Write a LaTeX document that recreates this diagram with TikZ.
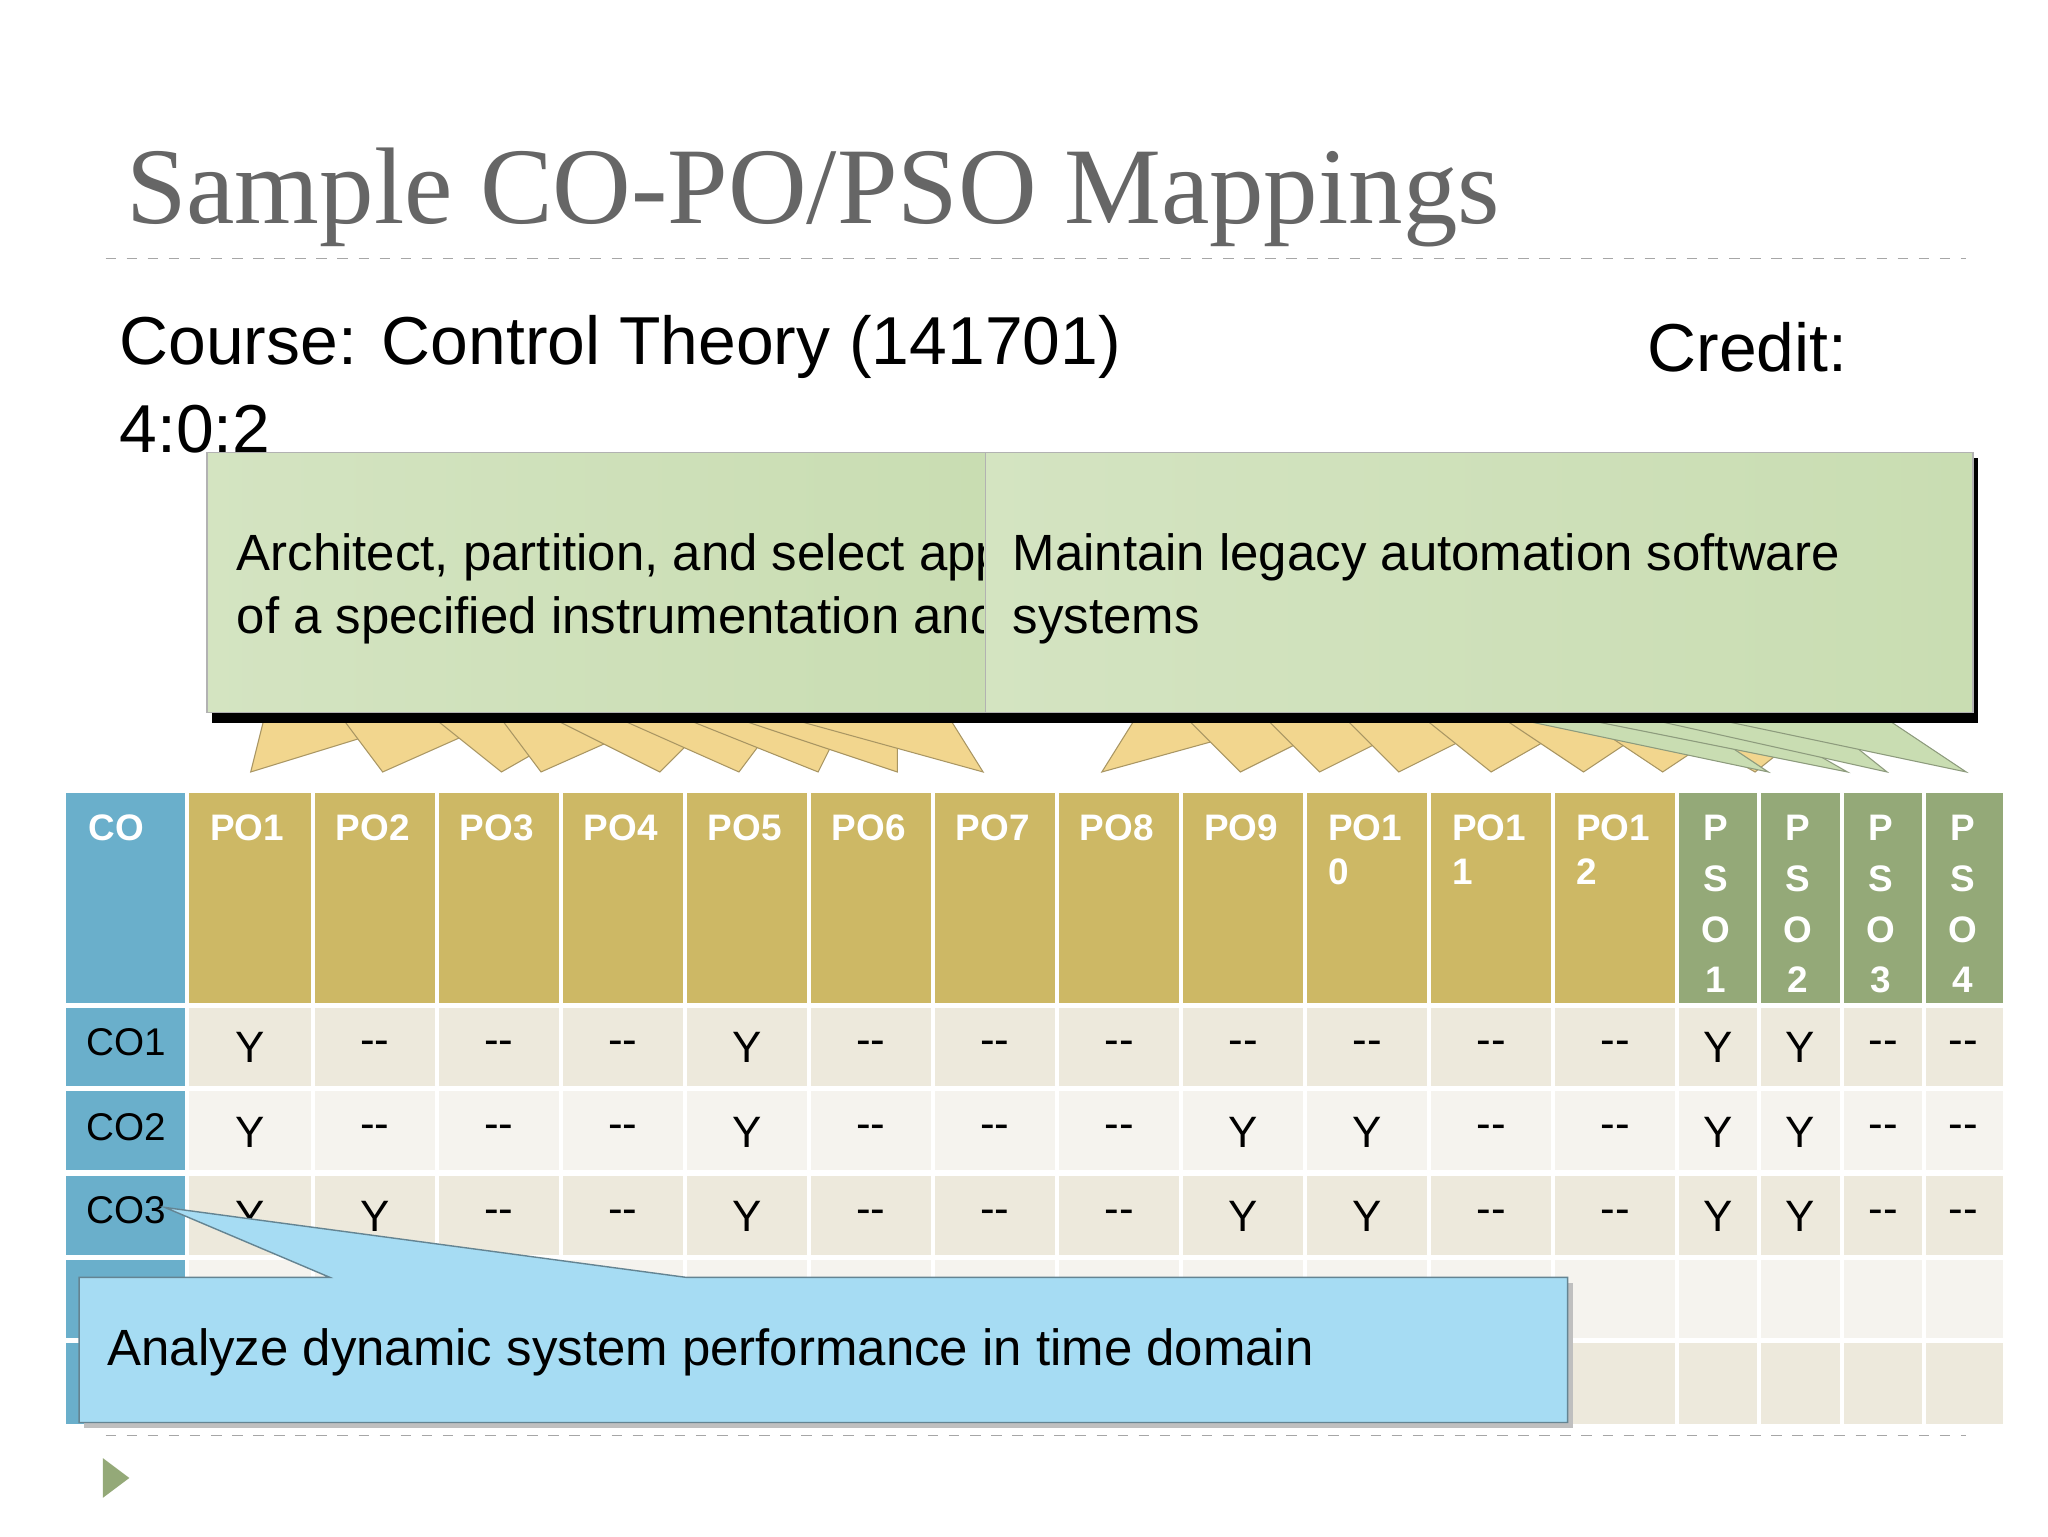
\documentclass[tikz,border=0pt]{standalone}
\usepackage{fontspec}
\setmainfont{Liberation Sans}
\newfontfamily\titlefont{Liberation Serif}
\begin{document}
\begin{tikzpicture}[x=0.0132cm,y=-0.0132cm,
  hd/.style={text=white,font=\bfseries\fontsize{10.5}{12.5}\selectfont,anchor=north west,align=left},
  cell/.style={font=\fontsize{12.5}{14}\selectfont},
  call/.style={font=\fontsize{14.5}{18}\selectfont,anchor=north west,align=left}]
\useasboundingbox (0,0) rectangle (1552,1164);
\fill[white] (0,0) rectangle (1552,1164);
\definecolor{cob}{HTML}{6AAFCB}
\definecolor{pog}{HTML}{CDB865}
\definecolor{psg}{HTML}{94A978}
\definecolor{rowa}{HTML}{EDE9DC}
\definecolor{rowb}{HTML}{F5F3EE}
\definecolor{grn}{HTML}{C9DDB2}
\definecolor{tan}{HTML}{F2D68E}
% title
\node[anchor=west,text=black!60,font=\titlefont\fontsize{31}{36}\selectfont,inner xsep=0pt] (title) at (95,150) {Sample CO-PO/PSO Mappings};
\draw[black!35,dashed] (80,196) -- (1490,196);
\node[anchor=west,font=\fontsize{19.3}{22}\selectfont,inner xsep=0pt] (course) at (90,263) {Course: Control Theory (141701)};
\node[anchor=west,font=\fontsize{19.3}{22}\selectfont,inner xsep=0pt] (credit) at (1248,263) {Credit:};
\node[anchor=west,font=\fontsize{19.3}{22}\selectfont,inner xsep=0pt] (ratio) at (90,325) {4:0:2};
% table
\def\xs{{50,142,237,331,425,519,613,707,801,895,989,1083,1177,1271,1333,1396,1458,1518}}
\def\ys{{601,762,825,889,953,1016,1079}}
\foreach \r in {1,...,5}{
  \pgfmathsetmacro\ya{\ys[\r]}\pgfmathsetmacro\yb{\ys[\r+1]}
  \pgfmathtruncatemacro\odd{mod(\r,2)}
  \ifnum\odd=1 \fill[rowa] (142,\ya) rectangle (1518,\yb); \else \fill[rowb] (142,\ya) rectangle (1518,\yb); \fi
  \fill[cob] (50,\ya) rectangle (142,\yb);
}
\fill[cob] (50,601) rectangle (142,760);
\fill[pog] (142,601) rectangle (1271,760);
\fill[psg] (1271,601) rectangle (1518,760);
\foreach \i in {1,...,16}{\pgfmathsetmacro\xx{\xs[\i]}\draw[white,line width=1.2pt] (\xx,601) -- (\xx,1079);}
\foreach \y in {762,825,889,953,1016}{\draw[white,line width=1.5pt] (50,\y) -- (1518,\y);}
\node[hd] (hco) at (58,608) {CO};
\foreach \n [count=\i] in {PO1,PO2,PO3,PO4,PO5,PO6,PO7,PO8,PO9}{
  \pgfmathsetmacro\xx{\xs[\i]}\node[hd] (h\i) at (\xx+8,608) {\n};}
\node[hd] (h10) at (997,608) {PO1\\0};
\node[hd] (h11) at (1091,608) {PO1\\1};
\node[hd] (h12) at (1185,608) {PO1\\2};
\foreach \k [count=\j] in {1,2,3,4}{
  \pgfmathsetmacro\xx{\xs[12+\j]}
  \node[hd,align=center,inner xsep=0pt] (hp\j) at (\xx+18,608) {P\\[2pt]S\\[2pt]O\\[2pt]\k};}
\node[font=\fontsize{11}{13}\selectfont,anchor=west,inner xsep=0pt] (c1) at (65,790) {CO1};
\node[font=\fontsize{11}{13}\selectfont,anchor=west,inner xsep=0pt] (c2) at (65,854) {CO2};
\node[font=\fontsize{11}{13}\selectfont,anchor=west,inner xsep=0pt] (c3) at (65,917) {CO3};
\def\rA{{"Y","d","d","d","Y","d","d","d","d","d","d","d","Y","Y","d","d"}}
\def\rB{{"Y","d","d","d","Y","d","d","d","Y","Y","d","d","Y","Y","d","d"}}
\def\rC{{"Y","Y","d","d","Y","d","d","d","Y","Y","d","d","Y","Y","d","d"}}
\newcommand\cv[1]{\if d#1{-}{-}\else #1\fi}
\foreach \i in {1,...,16}{
  \pgfmathsetmacro\xa{\xs[\i]}\pgfmathsetmacro\xb{\xs[\i+1]}
  \pgfmathsetmacro\a{\rA[\i-1]}\pgfmathsetmacro\b{\rB[\i-1]}\pgfmathsetmacro\c{\rC[\i-1]}
  \node[cell] (a\i) at ({(\xa+\xb)/2},794) {\cv{\a}};
  \node[cell] (b\i) at ({(\xa+\xb)/2},858) {\cv{\b}};
  \node[cell] (d\i) at ({(\xa+\xb)/2},922) {\cv{\c}};
}
% green callout pointers
\foreach \bx/\ax in {200/190,260/290,330/380,380/410,420/500,470/560,520/620,560/680,600/745}{
  \fill[tan,draw=tan!70!black,line width=0.3pt] (\bx,545) -- (\ax,585) -- (\bx+120,545) -- cycle;}
\foreach \bx/\ax in {860/835,900/940,960/1000,1020/1060,1080/1130,1140/1200,1200/1260,1260/1330}{
  \fill[tan,draw=tan!70!black,line width=0.3pt] (\bx,545) -- (\ax,585) -- (\bx+120,545) -- cycle;}
\foreach \bx/\ax in {1150/1340,1200/1400,1250/1430,1300/1490}{
  \fill[grn,draw=grn!70!black,line width=0.3pt] (\bx,545) -- (\ax,585) -- (\bx+130,545) -- cycle;}
% green callouts
\fill[black] (161,347) rectangle (1499,548);
\shade[left color=grn!80!white,right color=grn] (157,343) rectangle (747,540);
\shade[left color=grn!80!white,right color=grn] (747,343) rectangle (1495,540);
\draw[black!30,line width=0.4pt] (157,343) rectangle (1495,540) (747,343) -- (747,540);
\begin{scope}
\clip (157,343) rectangle (745,540);
\node[call] (g1) at (170,395) {Architect, partition, and select appropriate technologies for implementation\\of a specified instrumentation and control system};
\end{scope}
\node[call] (g2) at (758,395) {Maintain legacy automation software\\systems};
% blue callout
\definecolor{blu}{HTML}{A6DCF3}
\fill[black!25] (64,972) rectangle (1192,1082);
\fill[blu,draw=blu!60!black,line width=0.4pt] (60,968) -- (250,968) -- (125,915) -- (520,968) -- (1188,968) -- (1188,1078) -- (60,1078) -- cycle;
\node[call,anchor=west] (bl) at (72,1025) {Analyze dynamic system performance in time domain};
\draw[black!35,dashed] (80,1088) -- (1490,1088);
\fill[psg] (78,1105) -- (98,1120) -- (78,1135) -- cycle;
\end{tikzpicture}
\end{document}
